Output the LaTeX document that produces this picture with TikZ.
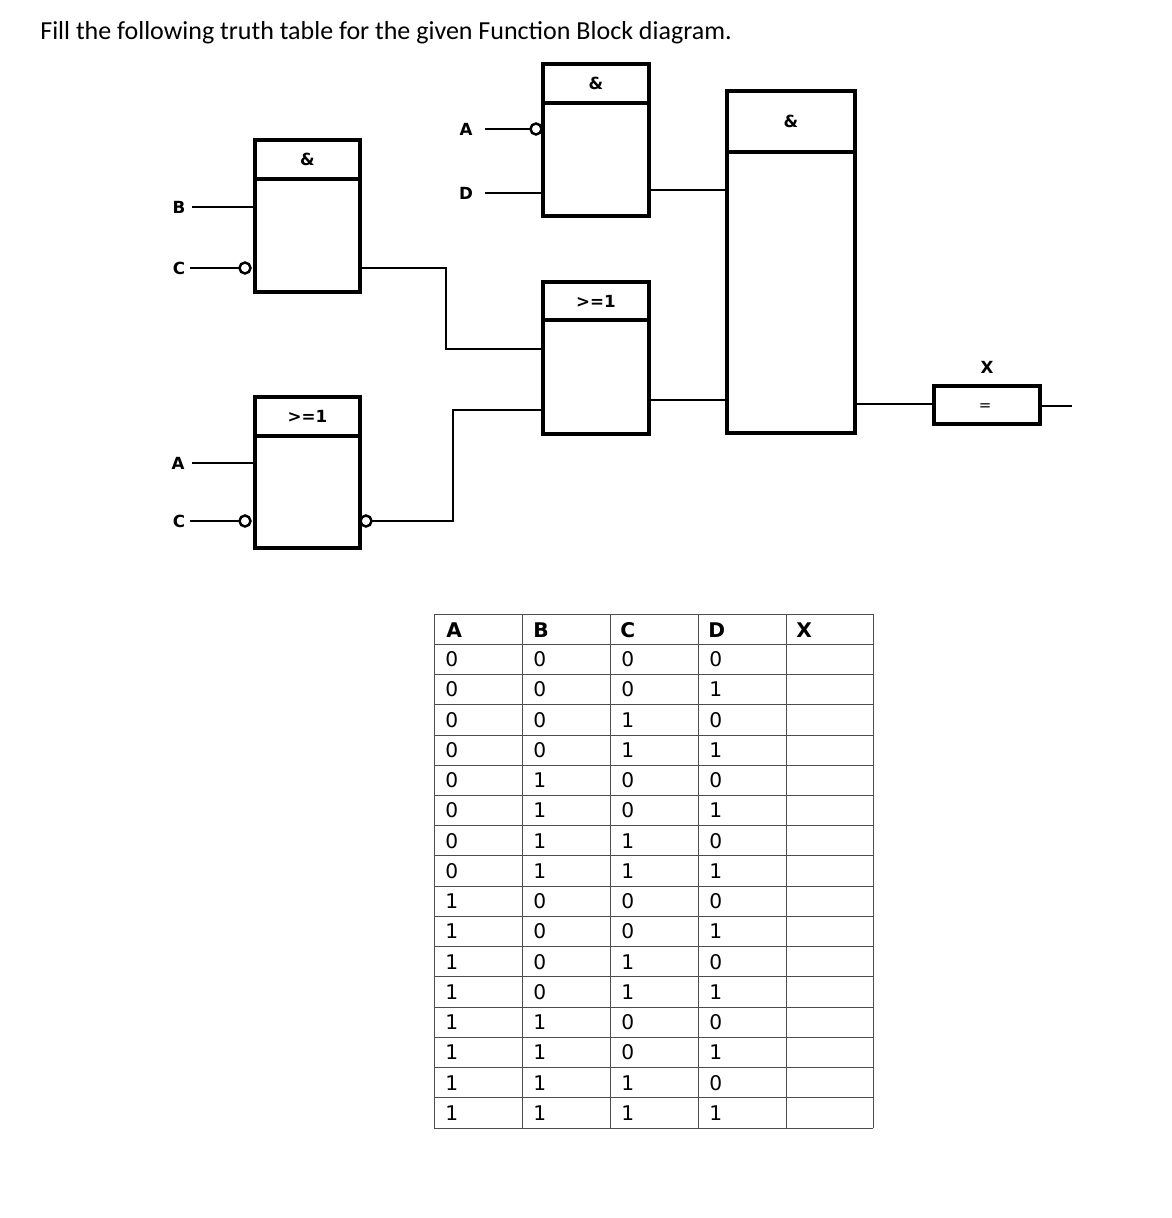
\documentclass[tikz,border=0pt]{standalone}
\usepackage{fontspec}
\setmainfont{DejaVu Sans}
\newfontfamily\titlefont{Carlito}
\begin{document}
\begin{tikzpicture}[x=0.02cm,y=-0.02cm,
  gate/.style={line width=2pt},
  wire/.style={line width=1.2pt},
  bub/.style={line width=1.4pt,fill=white},
  lbl/.style={font=\fontsize{9.5}{11}\selectfont\bfseries,inner sep=0},
  tab/.style={line width=0.5pt,draw=black!70},
  cell/.style={font=\fontsize{11.5}{13}\selectfont,anchor=west,inner sep=0}]
\useasboundingbox (0,0) rectangle (1172,1218);
\node[anchor=west,inner sep=0,font=\titlefont\fontsize{14.8}{17}\selectfont] (title) at (40,33) {Fill the following truth table for the given Function Block diagram.};
% gates
\foreach \n/\xa/\ya/\xb/\yb/\yh/\t in {g1/255/140/360/292/179/\&, g2/255/397/360/548/436/>=1, g3/543/64/649/216/103/\&, g4/543/282/649/434/320/>=1, g5/727/91/855/433/152/\&}{
  \draw[gate] (\xa,\ya) rectangle (\xb,\yb);
  \draw[gate] (\xa,\yh) -- (\xb,\yh);
  \node[lbl] (\n) at ({(\xa+\xb)/2},{(\ya+\yh)/2}) {\t};
}
% inputs
\node[lbl] (b1) at (179,207) {B};
\node[lbl] (c1) at (179,268) {C};
\node[lbl] (a2) at (178,463) {A};
\node[lbl] (c2) at (179,521) {C};
\node[lbl] (a3) at (466,129) {A};
\node[lbl] (d3) at (466,193) {D};
\draw[wire] (192,207) -- (255,207);
\draw[wire] (190,268) -- (240,268);
\draw[bub] (245,268) circle (5.5);
\draw[wire] (192,463) -- (255,463);
\draw[wire] (190,521) -- (240,521);
\draw[bub] (245,521) circle (5.5);
\draw[wire] (485,129) -- (530,129);
\draw[bub] (536,129) circle (5.5);
\draw[wire] (485,193) -- (543,193);
% internal wires
\draw[wire] (360,268) -- (446,268) -- (446,349) -- (543,349);
\draw[bub] (366,521) circle (5.5);
\draw[wire] (372,521) -- (453,521) -- (453,410) -- (543,410);
\draw[wire] (649,190) -- (727,190);
\draw[wire] (649,400) -- (727,400);
\draw[wire] (855,404) -- (934,404);
% output
\draw[gate] (934,386) rectangle (1040,424);
\node[inner sep=0,font=\fontsize{8.5}{9}\selectfont] (eq) at (985,407) {=};
\node[lbl] (x) at (987,367) {X};
\draw[wire] (1040,406) -- (1072,406);
% table
\foreach \x in {434,522,610,698,786,873} \draw[tab] (\x,614) -- (\x,1128);
\foreach \i in {0,...,17} \draw[tab] (434,{614+\i*30.235}) -- (873,{614+\i*30.235});
\foreach \h/\x in {A/446,B/533,C/620,D/708,X/796}
  \node[cell,font=\fontsize{11.5}{13}\selectfont\bfseries] at (\x,630) {\h};
\foreach \r in {0,...,15}{
  \pgfmathtruncatemacro\a{div(\r,8)}
  \pgfmathtruncatemacro\b{mod(div(\r,4),2)}
  \pgfmathtruncatemacro\c{mod(div(\r,2),2)}
  \pgfmathtruncatemacro\d{mod(\r,2)}
  \pgfmathsetmacro\yy{614+(\r+1.5)*30.235}
  \node[cell] at (445,\yy) {\a};
  \node[cell] at (533,\yy) {\b};
  \node[cell] at (621,\yy) {\c};
  \node[cell] at (709,\yy) {\d};
}
\end{tikzpicture}
\end{document}
